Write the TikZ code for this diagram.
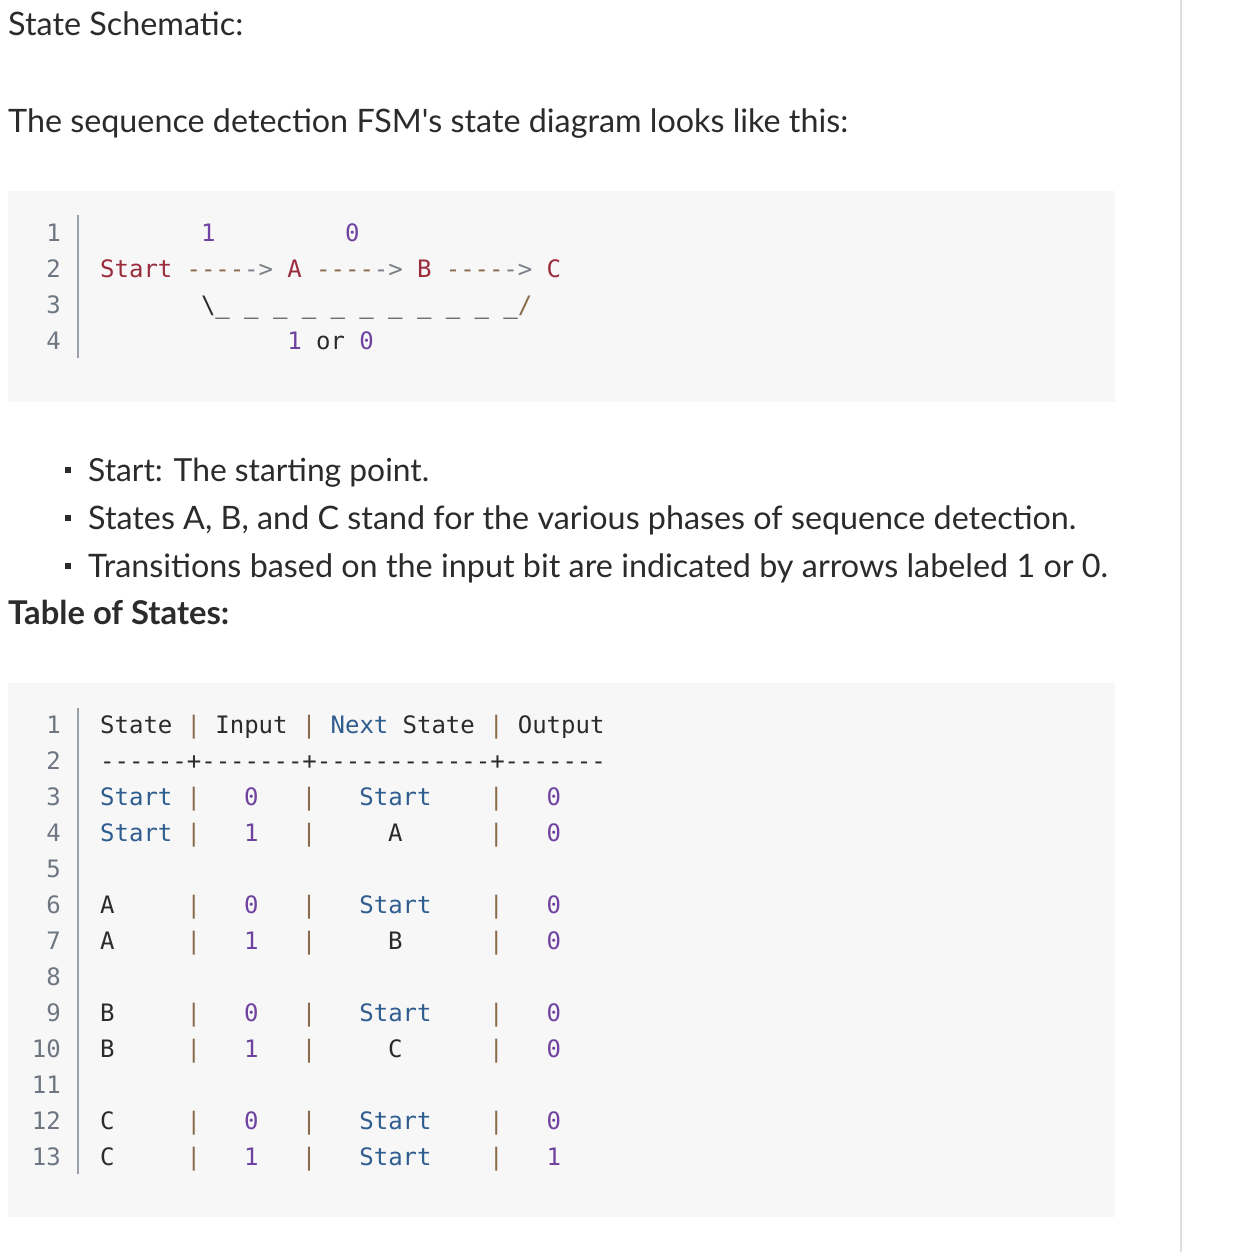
\documentclass[tikz,border=0pt]{standalone}
\usepackage{fontspec}
\setmainfont{Lato}
\newfontfamily\code{DejaVu Sans Mono}
\usepackage{graphicx}
\definecolor{txt}{HTML}{2B2B2B}
\definecolor{cbg}{HTML}{F7F7F7}
\definecolor{lnum}{HTML}{6E7781}
\definecolor{red}{HTML}{9B2C3E}
\definecolor{pur}{HTML}{6F42A0}
\definecolor{brn}{HTML}{8A6A4A}
\definecolor{gry}{HTML}{7A7F88}
\definecolor{blu}{HTML}{2F5D8F}
\newcommand\tk[4]{\node[anchor=base west,inner sep=0,text=#3] at ({100+14.4*#1},{#2}) {\code\fontsize{24}{24}\selectfont #4};}
\newcommand\lnr[2]{\node[anchor=base east,inner sep=0,text=lnum] at (61,{#1}) {\code\fontsize{24}{24}\selectfont #2};}
\newcommand\sz[3]{\node[anchor=base west,inner sep=0,text=txt] at (#1) {\resizebox{#2pt}{!}{#3}};}
\def\rw#1{724+36*(#1-1)+9}
\begin{document}
\begin{tikzpicture}[x=1pt,y=-1pt]
\useasboundingbox (0,0) rectangle (1243,1252);
\fill[white] (0,0) rectangle (1243,1252);
\draw[gray!25,line width=1.5] (1181,0) -- (1181,1252);
% headings
\sz{8,36}{235}{State Schematic:}
\sz{8,133}{840}{The sequence detection FSM\textquotesingle s state diagram looks like this:}
\sz{8,624}{221}{\bfseries Table of States:}
% bullets
\foreach \y in {470,518,566} \fill[txt] (65,\y-3) rectangle (71,\y+3);
\sz{88,481}{341}{Start: The starting point.}
\sz{88,529}{988}{States A, B, and C stand for the various phases of sequence detection.}
\sz{88,577}{1020}{Transitions based on the input bit are indicated by arrows labeled 1 or 0.}
% code block 1
\fill[cbg] (8,191) rectangle (1115,402);
\draw[lnum!70,line width=1.2] (78,215) -- (78,358);
\foreach \i/\y in {1/241,2/277,3/313,4/349} \lnr{\y}{\i};
\tk{7}{241}{pur}{1}
\tk{17}{241}{pur}{0}
\tk{0}{277}{red}{Start}
\tk{6}{277}{brn}{----}\tk{10}{277}{gry}{->}
\tk{13}{277}{red}{A}
\tk{15}{277}{brn}{----}\tk{19}{277}{gry}{->}
\tk{22}{277}{red}{B}
\tk{24}{277}{brn}{----}\tk{28}{277}{gry}{->}
\tk{31}{277}{red}{C}
\tk{7}{313}{txt}{\textbackslash}
\foreach \c in {8,10,...,28} {\tk{\c}{313}{txt}{\_}}
\tk{29}{313}{brn}{/}
\tk{13}{349}{pur}{1}
\tk{15}{349}{txt}{or}
\tk{18}{349}{pur}{0}
% code block 2
\fill[cbg] (8,683) rectangle (1115,1217);
\draw[lnum!70,line width=1.2] (78,708) -- (78,1174);
\foreach \i in {1,...,13} \lnr{724+36*(\i-1)+9}{\i};
\tk{0}{\rw1}{txt}{State}\tk{6}{\rw1}{brn}{|}\tk{8}{\rw1}{txt}{Input}\tk{14}{\rw1}{brn}{|}
\tk{16}{\rw1}{blu}{Next}\tk{21}{\rw1}{txt}{State}\tk{27}{\rw1}{brn}{|}\tk{29}{\rw1}{txt}{Output}
\tk{0}{\rw2}{txt}{------+-------+------------+-------}
\foreach \row/\st/\stc/\inp/\nx/\nxc/\nxo/\out in {
 3/Start/blu/0/Start/blu/18/0, 4/Start/blu/1/A/txt/20/0,
 6/A/txt/0/Start/blu/18/0, 7/A/txt/1/B/txt/20/0,
 9/B/txt/0/Start/blu/18/0, 10/B/txt/1/C/txt/20/0,
 12/C/txt/0/Start/blu/18/0, 13/C/txt/1/Start/blu/18/1} {
 \tk{0}{\rw\row}{\stc}{\st}
 \tk{6}{\rw\row}{brn}{|}
 \tk{10}{\rw\row}{pur}{\inp}
 \tk{14}{\rw\row}{brn}{|}
 \tk{\nxo}{\rw\row}{\nxc}{\nx}
 \tk{27}{\rw\row}{brn}{|}
 \tk{31}{\rw\row}{pur}{\out}
}
\end{tikzpicture}
\end{document}
